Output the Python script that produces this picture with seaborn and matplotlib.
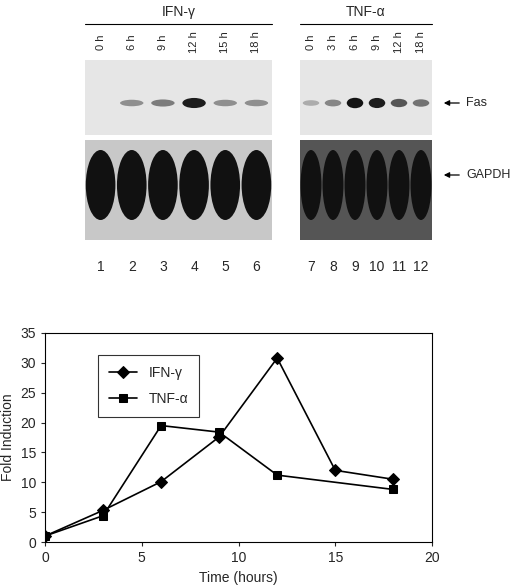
import matplotlib
matplotlib.use("Agg")
import matplotlib.pyplot as plt
import seaborn as sns
import pandas as pd
from matplotlib.patches import Ellipse, Rectangle

ifn_time = [0, 3, 6, 9, 12, 15, 18]
ifn_fold = [1.0, 5.3, 10.1, 17.6, 30.8, 12.0, 10.5]
tnf_time = [0, 3, 6, 9, 12, 18]
tnf_fold = [1.0, 4.4, 19.5, 18.4, 11.2, 8.8]
ifn_lanes = ["0 h", "6 h", "9 h", "12 h", "15 h", "18 h"]
tnf_lanes = ["0 h", "3 h", "6 h", "9 h", "12 h", "18 h"]
fas_ifn = [0.0, 0.25, 0.35, 0.85, 0.25, 0.25]
fas_tnf = [0.1, 0.3, 0.9, 0.85, 0.55, 0.4]

sns.set_style("white")
plt.rcParams['font.family'] = ['Liberation Sans', 'DejaVu Sans']
W, H = 520, 586
fig = plt.figure(figsize=(5.2, 5.86), dpi=100)

bax = fig.add_axes([0, 0, 1, 1])
bax.set_xlim(0, W); bax.set_ylim(H, 0); bax.axis("off")
panels = [(85, 272, ifn_lanes, fas_ifn, "IFN-γ", 1), (300, 432, tnf_lanes, fas_tnf, "TNF-α", 7)]
for x0, x1, lanes, fas, title, start in panels:
    bax.text((x0 + x1) / 2, 12, title, ha="center", va="center", fontsize=10)
    bax.plot([x0, x1], [24, 24], color="black", lw=0.8)
    bax.add_patch(Rectangle((x0, 60), x1 - x0, 75, color="#e6e6e6", lw=0))
    bax.add_patch(Rectangle((x0, 140), x1 - x0, 100, color="#c8c8c8" if start == 1 else "#555555", lw=0))
    n = len(lanes)
    step = (x1 - x0) / n
    for i, (lab, f) in enumerate(zip(lanes, fas)):
        cx = x0 + step * (i + 0.5)
        bax.text(cx, 42, lab, rotation=90, ha="center", va="center", fontsize=8)
        if f > 0:
            g = 0.75 * (1 - f)
            bax.add_patch(Ellipse((cx, 103), step * 0.75, 5 + 6 * f, color=(g, g, g), lw=0))
        bax.add_patch(Ellipse((cx, 185), step * 0.95, 70, color="#111111", lw=0))
        bax.text(cx, 267, str(start + i), ha="center", va="center", fontsize=10)
for label, y in [("Fas", 103), ("GAPDH", 175)]:
    bax.annotate("", xy=(441, y), xytext=(462, y),
                 arrowprops=dict(arrowstyle="-|>", lw=0.9, color="black", mutation_scale=8))
    bax.text(466, y, label, va="center", ha="left", fontsize=9)

ax = fig.add_axes([45 / W, 44 / H, 387 / W, 209 / H])
df = pd.concat([
    pd.DataFrame({"t": ifn_time, "f": ifn_fold, "s": "IFN-γ"}),
    pd.DataFrame({"t": tnf_time, "f": tnf_fold, "s": "TNF-α"}),
])
sns.lineplot(data=df, x="t", y="f", hue="s", style="s", markers={"IFN-γ": "D", "TNF-α": "s"},
             dashes=False, palette=["black", "black"], markersize=6, lw=1.2, ax=ax,
             markeredgecolor="black")
ax.set_xlim(0, 20); ax.set_ylim(0, 35)
ax.set_xticks(range(0, 21, 5)); ax.set_yticks(range(0, 36, 5))
ax.set_xlabel("Time (hours)", fontsize=10)
ax.set_ylabel("Fold Induction", fontsize=10)
ax.tick_params(labelsize=10, direction="out", length=3, left=True, bottom=True)
for s in ax.spines.values():
    s.set_color("black"); s.set_linewidth(0.8)
leg = ax.legend(loc="upper left", bbox_to_anchor=(0.12, 0.93), fontsize=10, frameon=True,
                fancybox=False, edgecolor="black", title=None, borderpad=0.8, labelspacing=0.9)
leg.get_frame().set_linewidth(0.8)
fig.savefig("out.png", dpi=100)
